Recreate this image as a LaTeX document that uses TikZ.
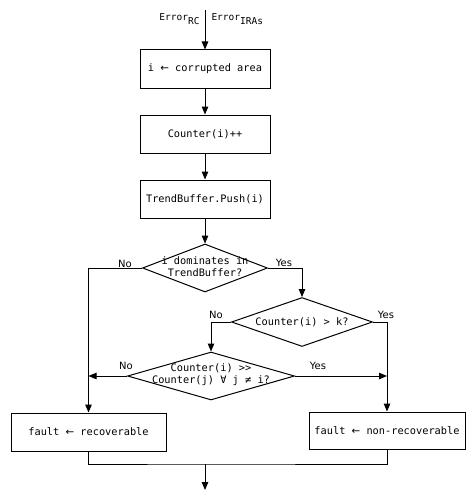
\documentclass[tikz,border=0pt]{standalone}
\usepackage{fontspec}
\setmainfont{DejaVu Sans}
\newfontfamily\monofont{DejaVu Sans Mono}
\newfontfamily\arrfont{DejaVu Sans}
\newcommand{\myarr}{{\arrfont ←}}
\usetikzlibrary{shapes.geometric,arrows.meta}
\begin{document}
\begin{tikzpicture}[x=1pt,y=-1pt,line width=1pt,
  box/.style={draw,rectangle,minimum width=#1,minimum height=38pt,inner sep=0pt,font=\monofont\fontsize{10.3}{12}\selectfont},
  dia/.style={draw,diamond,inner sep=0pt,minimum width=#1,minimum height=48pt},
  dtext/.style={align=center,font=\monofont\fontsize{10.3}{12}\selectfont},
  lbl/.style={font=\fontsize{10}{11}\selectfont},
  arr/.style={-{Triangle[length=8pt,width=6.5pt]}},
  ]
\useasboundingbox (0,0) rectangle (474,503);
\coordinate (top) at (205,10);
\node[font=\monofont\fontsize{9.5}{10}\selectfont,anchor=base east,inner sep=0pt] (erc) at (200,21) {Error\raisebox{-4pt}{RC}};
\node[font=\monofont\fontsize{9.5}{10}\selectfont,anchor=base west,inner sep=0pt] (eira) at (211,21) {Error\raisebox{-4pt}{IRAs}};
\node[box=130pt] (b1) at (205,69) {i \myarr{} corrupted area};
\node[box=130pt] (b2) at (205,134) {Counter(i)++};
\node[box=130pt] (b3) at (205,199) {TrendBuffer.Push(i)};
\node[dia=125pt] (d1) at (205,268) {};
\node[dtext] (t1) at (205,267) {i dominates in\\TrendBuffer?};
\node[dia=141pt,minimum height=49pt] (d2) at (302,322) {};
\node[dtext] (t2) at (302,322) {Counter(i) > k?};
\node[dia=167pt] (d3) at (211,376) {};
\node[dtext] (t3) at (211,375) {Counter(i) >>\\Counter(j) ∀ j ≠ i?};
\node[box=155pt] (b4) at (88.5,432) {fault \myarr{} recoverable};
\node[box=156pt,minimum height=37pt] (b5) at (387,430.5) {fault \myarr{} non-recoverable};
\coordinate (m) at (205,464);
\coordinate (out) at (205,490);

\draw[arr] (top) -- (b1);
\draw[arr] (b1) -- (b2);
\draw[arr] (b2) -- (b3);
\draw[arr] (b3) -- (d1);
\draw[arr] (d1.west) -| (b4.north);
\draw[arr] (d1.east) -| (d2.north);
\draw[arr] (d2.west) -| (d3.north);
\draw[arr] (d2.east) -| (b5.north);
\draw[arr] (d3.west) -- (d3.west -| b4.north);
\draw[arr] (d3.east) -- (d3.east -| b5.north);
\draw (b4.south) |- (m) -| (b5.south);
\draw[arr] (m) -- (out);

\node[lbl] (n1) at (125,264) {No};
\node[lbl] (y1) at (284,263) {Yes};
\node[lbl] (n2) at (216,315) {No};
\node[lbl] (y2) at (386,315) {Yes};
\node[lbl] (n3) at (126,366) {No};
\node[lbl] (y3) at (318,366) {Yes};
\end{tikzpicture}
\end{document}
